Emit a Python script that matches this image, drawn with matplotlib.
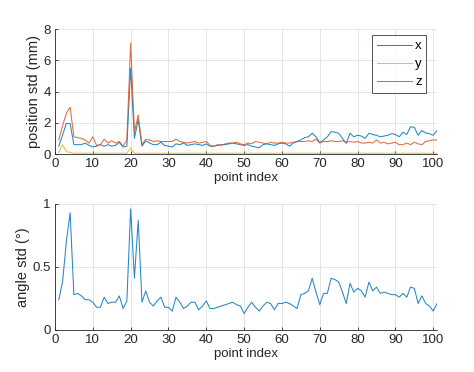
import matplotlib
matplotlib.use("Agg")
import matplotlib.pyplot as plt
import numpy as np

plt.rcParams['font.family'] = ['Liberation Sans', 'DejaVu Sans']

# point index 1..101
point_index = list(range(1, 102))

pos_x = [0.5, 1.2, 1.95, 1.95, 0.6, 0.6, 0.6, 0.7, 0.55, 0.45,
         0.5, 0.6, 0.5, 0.6, 0.5, 0.55, 0.75, 0.45, 0.5, 5.5,
         1.0, 2.2, 0.5, 0.85, 0.7, 0.6, 0.6, 0.75, 0.55, 0.5,
         0.45, 0.65, 0.6, 0.7, 0.55, 0.6, 0.65, 0.6, 0.55, 0.65,
         0.5, 0.5, 0.55, 0.6, 0.6, 0.65, 0.7, 0.65, 0.6, 0.55,
         0.6, 0.5, 0.45, 0.4, 0.6, 0.65, 0.6, 0.55, 0.65, 0.7,
         0.65, 0.5, 0.7, 0.8, 0.9, 1.05, 1.1, 1.33, 1.1, 0.73,
         0.9, 1.1, 1.43, 1.4, 1.33, 1.0, 0.68, 1.33, 1.1, 1.2,
         1.15, 1.0, 1.33, 1.25, 1.2, 1.1, 1.15, 1.2, 1.3, 1.25,
         1.1, 1.4, 1.25, 1.75, 1.7, 1.2, 1.5, 1.35, 1.3, 1.2,
         1.5]

pos_y = [0.1, 0.6, 0.15, 0.1, 0.05, 0.05, 0.05, 0.05, 0.05, 0.05,
         0.05, 0.05, 0.05, 0.05, 0.05, 0.05, 0.05, 0.05, 0.05, 0.4,
         0.05, 0.05, 0.05, 0.05, 0.05, 0.05, 0.05, 0.05, 0.05, 0.05,
         0.05, 0.05, 0.05, 0.05, 0.05, 0.05, 0.05, 0.05, 0.05, 0.05,
         0.05, 0.05, 0.05, 0.05, 0.05, 0.05, 0.05, 0.05, 0.05, 0.05,
         0.05, 0.05, 0.05, 0.05, 0.05, 0.05, 0.05, 0.05, 0.05, 0.05,
         0.05, 0.05, 0.05, 0.05, 0.05, 0.05, 0.05, 0.05, 0.05, 0.05,
         0.05, 0.05, 0.05, 0.05, 0.05, 0.05, 0.05, 0.05, 0.05, 0.05,
         0.05, 0.05, 0.05, 0.05, 0.05, 0.05, 0.05, 0.05, 0.05, 0.05,
         0.05, 0.05, 0.05, 0.05, 0.05, 0.05, 0.05, 0.05, 0.05, 0.05,
         0.05]

pos_z = [0.9, 1.8, 2.6, 3.0, 1.1, 1.05, 1.0, 0.9, 0.7, 1.1,
         0.55, 0.6, 0.95, 0.7, 0.85, 0.7, 0.8, 0.5, 0.9, 7.1,
         1.4, 2.5, 0.6, 0.95, 0.9, 0.8, 0.85, 0.8, 0.8, 0.8,
         0.8, 0.95, 0.8, 0.75, 0.7, 0.75, 0.8, 0.7, 0.75, 0.8,
         0.55, 0.5, 0.6, 0.55, 0.65, 0.7, 0.7, 0.75, 0.65, 0.6,
         0.7, 0.65, 0.8, 0.75, 0.7, 0.65, 0.75, 0.7, 0.7, 0.75,
         0.7, 0.7, 0.75, 0.8, 0.8, 0.8, 0.85, 0.8, 0.95, 0.7,
         0.8, 0.8, 0.85, 0.8, 0.8, 0.85, 0.75, 0.8, 0.75, 0.8,
         0.7, 0.7, 0.75, 0.7, 0.9, 0.7, 0.75, 0.65, 0.7, 0.75,
         0.6, 0.6, 0.7, 0.6, 0.75, 0.65, 0.6, 0.8, 0.85, 0.9,
         0.9]

angle_std = [0.24, 0.38, 0.70, 0.93, 0.28, 0.29, 0.27, 0.24, 0.24, 0.22,
             0.18, 0.18, 0.26, 0.21, 0.22, 0.22, 0.27, 0.17, 0.23, 0.96,
             0.41, 0.87, 0.22, 0.31, 0.22, 0.19, 0.23, 0.26, 0.18, 0.18,
             0.15, 0.26, 0.22, 0.17, 0.19, 0.22, 0.22, 0.16, 0.19, 0.23,
             0.17, 0.17, 0.18, 0.19, 0.20, 0.21, 0.22, 0.20, 0.19, 0.13,
             0.18, 0.22, 0.18, 0.15, 0.19, 0.22, 0.21, 0.16, 0.21, 0.21,
             0.22, 0.21, 0.19, 0.17, 0.28, 0.29, 0.31, 0.41, 0.30, 0.20,
             0.29, 0.29, 0.41, 0.40, 0.38, 0.30, 0.21, 0.37, 0.30, 0.33,
             0.31, 0.26, 0.38, 0.31, 0.34, 0.29, 0.30, 0.29, 0.28, 0.28,
             0.26, 0.29, 0.26, 0.34, 0.33, 0.21, 0.27, 0.21, 0.19, 0.15,
             0.21]

x_ticks = [0, 10, 20, 30, 40, 50, 60, 70, 80, 90, 100]

BLUE = '#0072BD'
ORANGE = '#D95319'
YELLOW = '#EDB120'
TXT = '#262626'
FS = 9.5


def style_axes(ax):
    ax.spines['top'].set_visible(False)
    ax.spines['right'].set_visible(False)
    for s in ('left', 'bottom'):
        ax.spines[s].set_color(TXT)
        ax.spines[s].set_linewidth(0.6)
    ax.grid(True, color='#e0e0e0', linewidth=0.6)
    ax.set_axisbelow(True)
    ax.tick_params(direction='in', length=2.5, width=0.6, colors=TXT,
                   labelsize=FS, pad=3)
    ax.set_xlim(0, 101)
    ax.set_xticks(x_ticks)
    ax.set_xlabel('point index', fontsize=FS, color=TXT, labelpad=1)


fig = plt.figure(figsize=(4.74, 3.72), dpi=100)
ax1 = fig.add_axes([0.116, 0.586, 0.806, 0.336])
ax2 = fig.add_axes([0.116, 0.113, 0.806, 0.339])

ax1.plot(point_index, pos_x, color=BLUE, lw=0.75, alpha=0.85, label='x')
ax1.plot(point_index, pos_y, color=YELLOW, lw=0.75, alpha=0.85, label='y')
ax1.plot(point_index, pos_z, color=ORANGE, lw=0.75, alpha=0.85, label='z')
style_axes(ax1)
ax1.set_ylim(0, 8)
ax1.set_yticks([0, 2, 4, 6, 8])
ax1.set_ylabel('position std (mm)', fontsize=10.5, color=TXT, labelpad=2)
leg = ax1.legend(loc='upper right', bbox_to_anchor=(0.972, 0.95), fontsize=FS,
                 frameon=True, fancybox=False, handlelength=2.7,
                 borderpad=0.35, labelspacing=0.45, handletextpad=0.2,
                 borderaxespad=0)
leg.get_frame().set_edgecolor(TXT)
leg.get_frame().set_linewidth(0.7)

ax2.plot(point_index, angle_std, color=BLUE, lw=0.75, alpha=0.85)
style_axes(ax2)
ax2.set_ylim(0, 1)
ax2.set_yticks([0, 0.5, 1])
ax2.set_yticklabels(['0', '0.5', '1'])
ax2.set_ylabel('angle std (°)', fontsize=10.5, color=TXT, labelpad=2)

fig.savefig('out.png', dpi=100)
